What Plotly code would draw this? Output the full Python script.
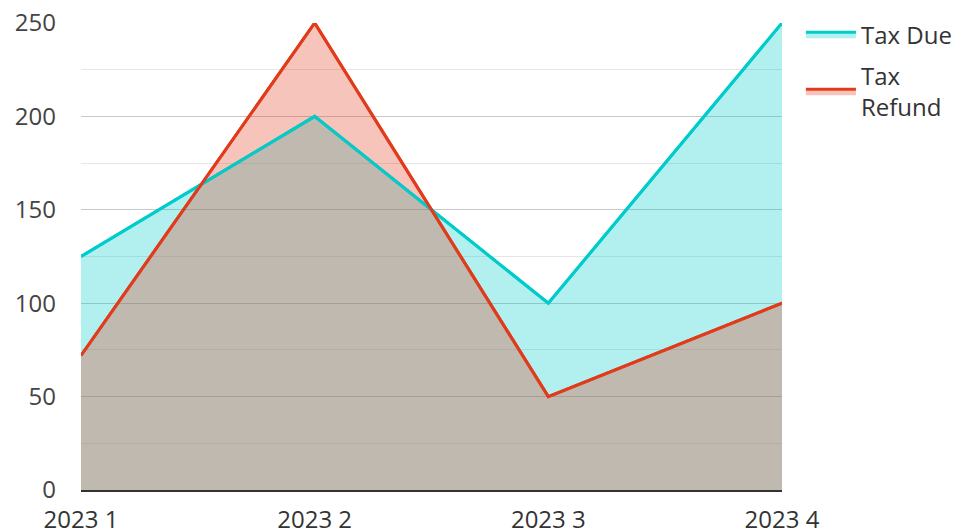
import plotly.graph_objects as go

categories = ["2023 1", "2023 2", "2023 3", "2023 4"]
tax_due = [125, 200, 100, 250]
tax_refund = [72, 250, 50, 100]

due_color = "#00cccc"
refund_color = "#e03c1c"

fig = go.Figure()
# fill areas (with legend entries)
fig.add_trace(go.Scatter(x=categories, y=tax_due, name="Tax Due", mode="lines",
                         line=dict(color=due_color, width=3), fill="tozeroy",
                         fillcolor="rgba(0,204,204,0.3)", legendgroup="due"))
fig.add_trace(go.Scatter(x=categories, y=tax_refund, name="Tax<br>Refund", mode="lines",
                         line=dict(color=refund_color, width=3), fill="tozeroy",
                         fillcolor="rgba(224,60,28,0.3)", legendgroup="ref"))
# lines drawn above all fills
fig.add_trace(go.Scatter(x=categories, y=tax_due, mode="lines", showlegend=False,
                         line=dict(color=due_color, width=3), legendgroup="due", hoverinfo="skip"))
fig.add_trace(go.Scatter(x=categories, y=tax_refund, mode="lines", showlegend=False,
                         line=dict(color=refund_color, width=3), legendgroup="ref", hoverinfo="skip"))

fig.update_layout(
    width=953, height=523, autosize=False,
    margin=dict(l=73, r=179, t=15, b=41, autoexpand=False),
    paper_bgcolor="white", plot_bgcolor="white",
    font=dict(family="Open Sans, Noto Sans, sans-serif", size=24, color="#333"),
    showlegend=True,
    legend=dict(x=1.027, y=1.023, xanchor="left", yanchor="top",
                font=dict(size=24, color="#333"),
                tracegroupgap=7, itemwidth=50),
    xaxis=dict(type="category", range=[0, 3], showgrid=False, showline=True,
               linecolor="#333", linewidth=2, ticks="", ticklabelstandoff=7,
               ticklabeloverflow="allow",
               tickfont=dict(size=24, color="#333")),
    yaxis=dict(range=[0, 250], dtick=50, showgrid=True, gridcolor="#c8c8c8", gridwidth=1,
               zeroline=False, showline=False, ticks="", ticklabelstandoff=24,
               ticklabeloverflow="allow",
               tickfont=dict(size=24, color="#444"),
               minor=dict(dtick=25, showgrid=True, gridcolor="#e6e6e6", gridwidth=1)),
)
fig.write_html("out.html")
